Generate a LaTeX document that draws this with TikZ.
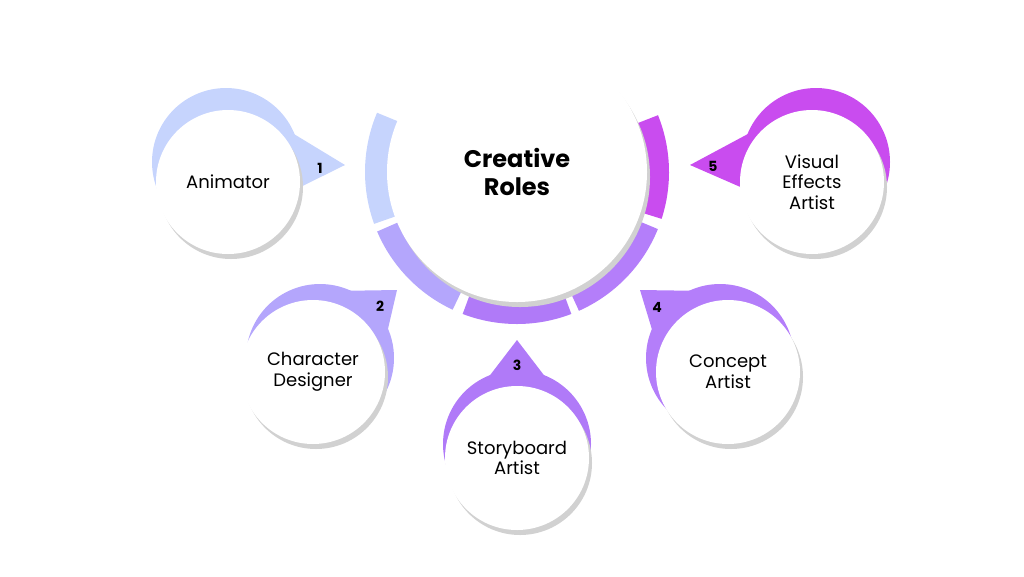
\documentclass[tikz,border=0pt]{standalone}
\usepackage{fontspec}
\setmainfont{Poppins}
\usetikzlibrary{calc}
\definecolor{roleA}{HTML}{C6D4FD}
\definecolor{roleB}{HTML}{B4A6FC}
\definecolor{roleC}{HTML}{B07AF8}
\definecolor{roleD}{HTML}{B47EFA}
\definecolor{roleE}{HTML}{C94CEF}
\tikzset{
  shade/.style={fill=black!18},
  role/.style={circle, fill=white, minimum size=108pt, inner sep=0pt,
    align=center, font=\fontsize{13.5}{15.5}\selectfont},
  num/.style={font=\bfseries\fontsize{10.5}{12}\selectfont},
  band/.style={line width=18pt},
}
\begin{document}
\begin{tikzpicture}[x=0.75pt, y=-0.75pt]
\useasboundingbox (0,0) rectangle (1024,576);
\coordinate (hub) at (517,172);

% ring pieces round the hub
\foreach \col/\s/\e in {roleA/160/203, roleB/115/157, roleC/69/111, roleD/22/66, roleE/-22/18}
  \draw[band, \col] ($(hub)+(\s:140)$) arc[start angle=\s, end angle=\e, radius=140];

\fill[shade] ($(hub)+(3,5)$) circle[radius=130];
\node[circle, fill=white, minimum size=195pt, align=center,
  font=\bfseries\fontsize{18}{21}\selectfont] (roles) at (hub) {Creative\\Roles};

% satellites: white centre / blob centre / pointer tip / number / text
\foreach \n/\col/\w/\b/\tip/\ang/\pos/\txt in {
  1/roleA/{228,182}/{226,162}/{345,165}/0/{320,168}/Animator,
  2/roleB/{313,372}/{320,358}/{397,290}/-45/{380,306}/{Character\\Designer},
  3/roleC/{517,458}/{517,444}/{517,340}/-90/{517,365}/{Storyboard\\Artist},
  4/roleD/{728,372}/{720,358}/{640,290}/-135/{657,307}/{Concept\\Artist},
  5/roleE/{812,182}/{816,162}/{690,165}/180/{713,166}/{Visual\\Effects\\Artist}} {
  \coordinate (tip\n) at (\tip);
  \fill[\col] (\b) circle[radius=74];
  \fill[\col] ($(\b)+(\ang-24:72)$) -- (tip\n) -- ($(\b)+(\ang+24:72)$) -- cycle;
  \fill[shade] ($(\w)+(3,5)$) circle[radius=72];
  \node[role] (r\n) at (\w) {\txt};
  \node[num] (n\n) at (\pos) {\n};
}
\end{tikzpicture}
\end{document}
